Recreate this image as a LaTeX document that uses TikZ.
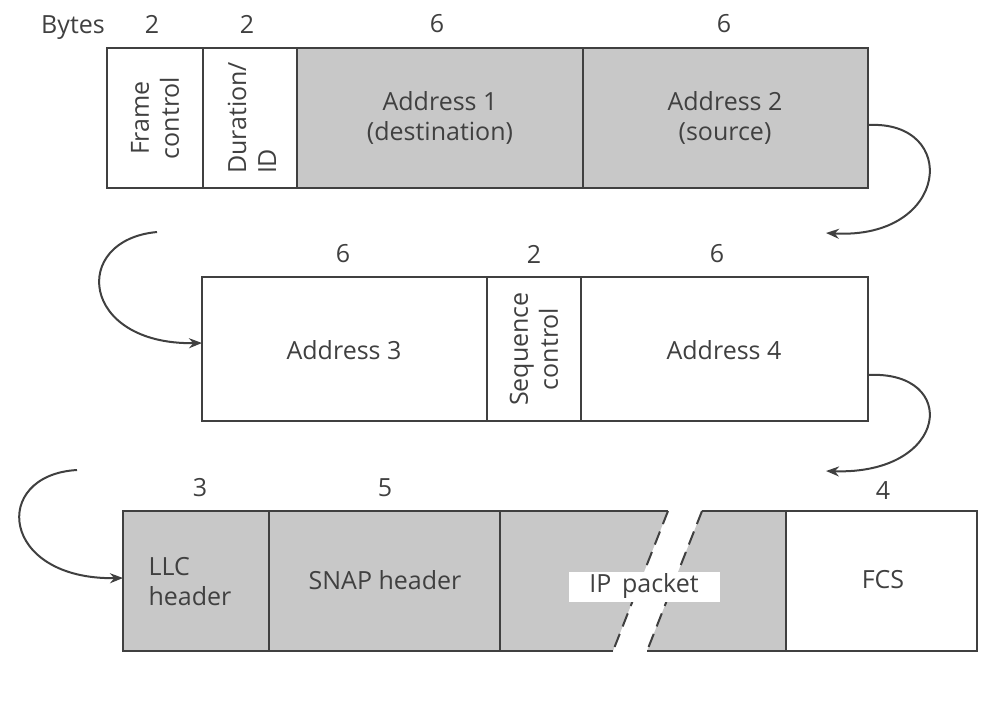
\documentclass[tikz,border=0pt]{standalone}
\usepackage{fontspec}
\setmainfont{Open Sans}
\usetikzlibrary{arrows.meta}
\definecolor{ln}{HTML}{404040}
\definecolor{gr}{HTML}{C8C8C8}
\begin{document}
\begin{tikzpicture}[x=1pt,y=-1pt,
  fld/.style={draw=ln,line width=2.2pt},
  txt/.style={text=ln,font=\fontsize{25}{30}\selectfont,inner sep=0pt,align=center},
  arr/.style={draw=ln,line width=2pt,-{Stealth[length=13pt,width=10pt]}}]
\useasboundingbox (0,0) rectangle (981,721);
% row 1
\draw[fld,fill=white] (107,48) rectangle (203,188);
\draw[fld,fill=white] (203,48) rectangle (297,188);
\draw[fld,fill=gr] (297,48) rectangle (583,188);
\draw[fld,fill=gr] (583,48) rectangle (868,188);
\node[txt] (bytes) at (73,28) {Bytes};
\node[txt] (n1) at (152,24) {2};
\node[txt] (n2) at (247,24) {2};
\node[txt] (n3) at (437,24) {6};
\node[txt] (n4) at (724,24) {6};
\node[txt,rotate=90] (fc) at (155,118) {Frame\\control};
\node[txt,rotate=90,align=left] (dur) at (252,118) {Duration/\\ID};
\node[txt] (a1) at (440,118) {Address 1\\(destination)};
\node[txt] (a2) at (725,118) {Address 2\\(source)};
% row 2
\draw[fld,fill=white] (202,277) rectangle (487,421);
\draw[fld,fill=white] (487,277) rectangle (581,421);
\draw[fld,fill=white] (581,277) rectangle (868,421);
\node[txt] (m1) at (343,254) {6};
\node[txt] (m2) at (534,254) {2};
\node[txt] (m3) at (717,254) {6};
\node[txt] (a3) at (344,350) {Address 3};
\node[txt,rotate=90] (sc) at (534,349) {Sequence\\control};
\node[txt] (a4) at (724,350) {Address 4};
% row 3
\draw[fld,fill=gr] (123,511) rectangle (269,651);
\draw[fld,fill=gr] (269,511) rectangle (500,651);
\fill[gr] (500,511) -- (668,511) -- (613,651) -- (500,651) -- cycle;
\fill[gr] (702,511) -- (786,511) -- (786,651) -- (647,651) -- cycle;
\draw[fld] (613,651) -- (500,651) -- (500,511) -- (668,511);
\draw[fld] (702,511) -- (977,511) -- (977,651) -- (647,651);
\draw[fld] (786,511) -- (786,651);
\draw[ln,line width=2pt,dash pattern=on 14pt off 8pt] (668,511) -- (613,651);
\draw[ln,line width=2pt,dash pattern=on 14pt off 8pt] (702,511) -- (647,651);
\node[fill=white,minimum width=151pt,minimum height=30pt,inner sep=0pt] (ipbg) at (644,587) {};
\node[txt] (ip) at (644,586) {IP\, packet};
\node[txt] (k1) at (200,488) {3};
\node[txt] (k2) at (385,488) {5};
\node[txt] (k3) at (883,491) {4};
\node[txt,align=left] (llc) at (190,582) {LLC\\header};
\node[txt] (snap) at (385,580) {SNAP header};
\node[txt] (fcs) at (883,580) {FCS};
% arrows
\coordinate (s1) at (868,125); \coordinate (e1) at (826,233);
\coordinate (s2) at (157,232); \coordinate (e2) at (202,343);
\coordinate (s3) at (868,375); \coordinate (e3) at (826,471);
\coordinate (s4) at (77,470); \coordinate (e4) at (123,578);
\draw[arr] (s1) .. controls (960,120) and (950,240) .. (e1);
\draw[arr] (s2) .. controls (70,240) and (80,345) .. (e2);
\draw[arr] (s3) .. controls (960,370) and (950,475) .. (e3);
\draw[arr] (s4) .. controls (-10,475) and (0,580) .. (e4);
\end{tikzpicture}
\end{document}
